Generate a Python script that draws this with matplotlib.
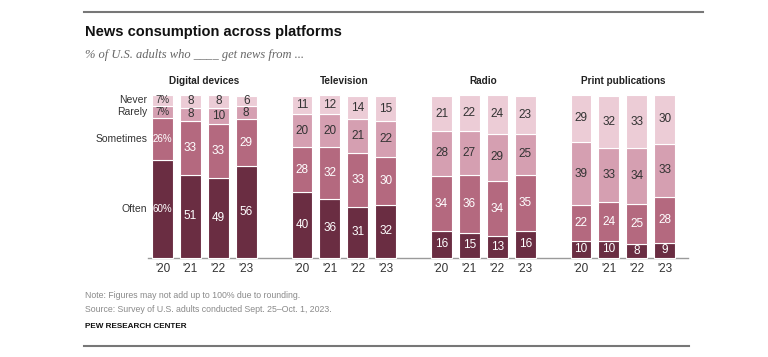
import matplotlib.pyplot as plt
import numpy as np

# Données (lecture du graphique)
plateformes = ["Digital devices", "Television", "Radio", "Print publications"]
annees = ["'20", "'21", "'22", "'23"]
categories = ["Often", "Sometimes", "Rarely", "Never"]

often = [[60, 51, 49, 56], [40, 36, 31, 32], [16, 15, 13, 16], [10, 10, 8, 9]]
sometimes = [[26, 33, 33, 29], [28, 32, 33, 30], [34, 36, 34, 35], [22, 24, 25, 28]]
rarely = [[7, 8, 10, 8], [20, 20, 21, 22], [28, 27, 29, 25], [39, 33, 34, 33]]
never = [[7, 8, 8, 6], [11, 12, 14, 15], [21, 22, 24, 23], [29, 32, 33, 30]]

couleurs = ["#6a2d42", "#b4697f", "#d59fb1", "#ecccd6"]
couleurs_texte = ["white", "white", "#333333", "#333333"]

plt.rcParams['font.family'] = ['Liberation Sans', 'DejaVu Sans']

fig = plt.figure(figsize=(7.68, 3.57), dpi=100)
W, H = 768, 357

def fx(px):
    return px / W

def fy(py):
    return 1 - py / H

# Axe principal : une seule zone pour les 4 panneaux
x0, x1 = 148, 688
y_base, y_top = 257.5, 94.8
ax = fig.add_axes([fx(x0), fy(y_base), fx(x1) - fx(x0), (y_base - y_top) / H])
pas = 27.9
ecart_panneau = 5
ax.set_xlim((x0 - 162.5) / pas, (x1 - 162.5) / pas)
ax.set_ylim(0, 100)
ax.axis('off')
ax.plot([0, 1], [0, 0], transform=ax.transAxes, color="#9a9a9a", lw=1.0, clip_on=False)

series = [often, sometimes, rarely, never]
for p, nom in enumerate(plateformes):
    xs = np.arange(4) + p * ecart_panneau
    bas = np.zeros(4)
    for k, serie in enumerate(series):
        vals = np.array(serie[p], dtype=float)
        ax.bar(xs, vals, bottom=bas, width=0.75, color=couleurs[k],
               edgecolor="white", linewidth=0.8, clip_on=False, zorder=2)
        for j in range(4):
            txt = str(serie[p][j])
            taille = 8.5
            if p == 0 and j == 0:
                txt += "%"
                taille = 7
            ax.text(xs[j], bas[j] + vals[j] / 2, txt, ha="center", va="center",
                    fontsize=taille, color=couleurs_texte[k], zorder=3)
        bas += vals
    for j in range(4):
        ax.text(xs[j], -3.5, annees[j], ha="center", va="top", fontsize=8.5, color="#333333")
    ax.text(xs.mean(), 105.5, nom, ha="center", va="bottom", fontsize=7.2,
            fontweight="bold", color="#222222")

# Libellés des catégories à gauche (alignés sur la première barre)
cumul = 0
premiers = [often[0][0], sometimes[0][0], rarely[0][0], never[0][0]]
for k, cat in enumerate(categories):
    ax.text(-0.55, cumul + premiers[k] / 2, cat, ha="right", va="center",
            fontsize=7.5, color="#333333")
    cumul += premiers[k]

# Titre, sous-titre, notes
fig.text(fx(85), fy(32), "News consumption across platforms", fontsize=10.5,
         fontweight="bold", color="#111111", va="center")
fig.text(fx(85), fy(55), "% of U.S. adults who ____ get news from ...", fontsize=9,
         style="italic", family="Liberation Serif", color="#666666", va="center")
fig.text(fx(85), fy(296), "Note: Figures may not add up to 100% due to rounding.",
         fontsize=6.3, color="#8a8a8a", va="center")
fig.text(fx(85), fy(310), "Source: Survey of U.S. adults conducted Sept. 25\u2013Oct. 1, 2023.",
         fontsize=6.3, color="#8a8a8a", va="center")
fig.text(fx(85), fy(327), "PEW RESEARCH CENTER", fontsize=5.9, fontweight="bold",
         color="#111111", va="center")

# Filets horizontaux
fig.add_artist(plt.Line2D([fx(84), fx(703)], [fy(12), fy(12)], color="#777777", lw=1.5))
fig.add_artist(plt.Line2D([fx(84), fx(689)], [fy(346), fy(346)], color="#777777", lw=1.5))

fig.savefig("out.png", dpi=100, facecolor="white")
